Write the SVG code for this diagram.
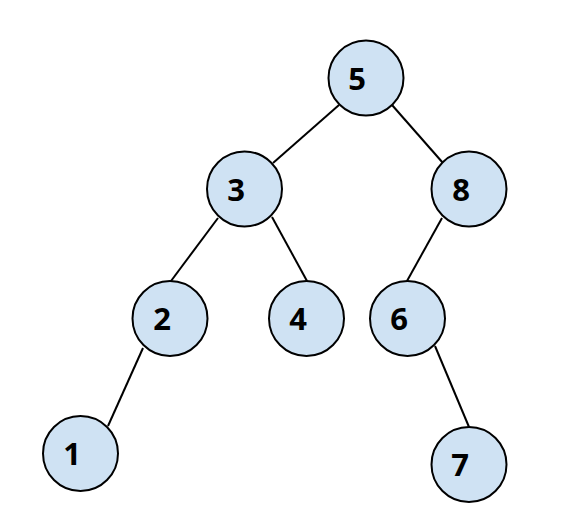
<svg xmlns="http://www.w3.org/2000/svg" width="585" height="515" viewBox="0 0 585 515">
<style>
.n circle{fill:#cfe2f3;stroke:#000;stroke-width:2}
.n text{font-family:"Open Sans","Noto Sans",sans-serif;font-weight:bold;font-size:31px;text-anchor:middle;fill:#000}
#edges line{stroke:#000;stroke-width:2}
</style>
<rect width="585" height="515" fill="#fff"/>
<g id="edges">
<line x1="339" y1="105" x2="273" y2="163"/>
<line x1="392" y1="105" x2="443" y2="163"/>
<line x1="218" y1="218" x2="171" y2="281"/>
<line x1="272" y1="217" x2="307" y2="281"/>
<line x1="442" y1="218" x2="407" y2="281"/>
<line x1="143" y1="348" x2="108" y2="426"/>
<line x1="435" y1="346" x2="469" y2="427"/>
</g>
<g id="n5" class="n"><circle cx="366" cy="78" r="37.5"/><text x="357" y="90">5</text></g>
<g id="n3" class="n"><circle cx="244.5" cy="189" r="37.5"/><text x="236" y="201">3</text></g>
<g id="n8" class="n"><circle cx="469" cy="189" r="37.5"/><text x="461" y="201">8</text></g>
<g id="n2" class="n"><circle cx="170" cy="318.5" r="37.5"/><text x="162" y="330">2</text></g>
<g id="n4" class="n"><circle cx="306.5" cy="318.5" r="37.5"/><text x="298" y="330">4</text></g>
<g id="n6" class="n"><circle cx="407.5" cy="318.5" r="37.5"/><text x="399" y="330">6</text></g>
<g id="n1" class="n"><circle cx="80.5" cy="453.5" r="37.5"/><text x="72" y="465">1</text></g>
<g id="n7" class="n"><circle cx="469" cy="464.5" r="37.5"/><text x="460" y="476">7</text></g>
</svg>
